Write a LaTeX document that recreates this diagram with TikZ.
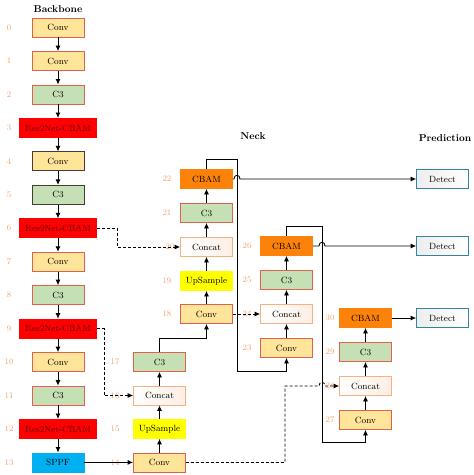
\documentclass[tikz,border=0pt]{standalone}
\usepackage{tikz}
\usetikzlibrary{positioning,calc,arrows.meta}
\definecolor{convyellow}{RGB}{255,229,153}
\definecolor{cgreen}{RGB}{197,224,180}
\definecolor{boxred}{RGB}{226,96,76}
\definecolor{darkline}{RGB}{70,60,50}
\definecolor{resred}{RGB}{255,0,0}
\definecolor{restext}{RGB}{90,0,0}
\definecolor{sppfblue}{RGB}{0,176,240}
\definecolor{upyellow}{RGB}{255,255,0}
\definecolor{concatline}{RGB}{244,177,131}
\definecolor{cbamorange}{RGB}{252,130,10}
\definecolor{detectline}{RGB}{49,133,156}
\definecolor{numorange}{RGB}{240,160,110}

\tikzset{
	blk/.style={draw=boxred, line width=0.8pt, minimum width=52pt, minimum height=19pt, inner sep=0pt, font=\fontsize{9}{10}\selectfont},
	conv/.style={blk, fill=convyellow},
	cthree/.style={blk, fill=cgreen},
	res/.style={blk, fill=resred, draw=resred, minimum width=77pt, text=restext},
	sppf/.style={blk, fill=sppfblue, draw=sppfblue},
	upsample/.style={blk, fill=upyellow, draw=upyellow},
	concat/.style={blk, draw=concatline, left color=white, right color=concatline!22},
	cbam/.style={blk, fill=cbamorange, draw=cbamorange},
	detect/.style={blk, draw=detectline, left color=gray!14, right color=white},
	num/.style={text=numorange, font=\fontsize{8.5}{10}\selectfont},
	title/.style={font=\bfseries\fontsize{10}{12}\selectfont},
	arr/.style={-{Latex[length=5.5pt,width=5pt]}, line width=0.8pt},
	darr/.style={arr, dash pattern=on 3pt off 2pt},
}

\begin{document}
\begin{tikzpicture}[x=1pt,y=-1pt]
		\useasboundingbox (0,0) rectangle (474,475);
		
		\node[title] (tback) at (58,9) {Backbone};
		\node[title] (tneck) at (253,136) {Neck};
		\node[title] (tpred) at (445,138) {Prediction};
		
		% backbone
		\node[conv] (b0) at (58,27.5) {Conv};
		\node[conv] (b1) at (58,61) {Conv};
		\node[cthree] (b2) at (58,94.4) {C3};
		\node[res] (b3) at (58,127.9) {Res2Net-CBAM};
		\node[conv,draw=darkline] (b4) at (58,161.3) {Conv};
		\node[cthree,draw=darkline] (b5) at (58,194.8) {C3};
		\node[res] (b6) at (58,228.2) {Res2Net-CBAM};
		\node[conv] (b7) at (58,261.7) {Conv};
		\node[cthree] (b8) at (58,295.1) {C3};
		\node[res] (b9) at (58,328.6) {Res2Net-CBAM};
		\node[conv] (b10) at (58,362) {Conv};
		\node[cthree] (b11) at (58,395.5) {C3};
		\node[res] (b12) at (58,428.9) {Res2Net-CBAM};
		\node[sppf] (b13) at (58,462.4) {SPPF};
		
		\node[num] (l0) at (9,27.5) {0};
		\node[num] (l1) at (9,61) {1};
		\node[num] (l2) at (9,94.4) {2};
		\node[num] (l3) at (9,127.9) {3};
		\node[num] (l4) at (9,161.3) {4};
		\node[num] (l5) at (9,194.8) {5};
		\node[num] (l6) at (9,228.2) {6};
		\node[num] (l7) at (9,261.7) {7};
		\node[num] (l8) at (9,295.1) {8};
		\node[num] (l9) at (9,328.6) {9};
		\node[num] (l10) at (9,362) {10};
		\node[num] (l11) at (9,395.5) {11};
		\node[num] (l12) at (9,428.9) {12};
		\node[num] (l13) at (9,462.4) {13};
		
		% neck
		\node[conv] (n14) at (159.5,462.4) {Conv};
		\node[upsample] (n15) at (159.5,428.9) {UpSample};
		\node[concat] (n16) at (159.5,395.5) {Concat};
		\node[cthree] (n17) at (159.5,362) {C3};
		
		\node[conv] (n18) at (206.5,314) {Conv};
		\node[upsample] (n19) at (206.5,281) {UpSample};
		\node[concat] (n20) at (206.5,247) {Concat};
		\node[cthree] (n21) at (206.5,213) {C3};
		\node[cbam] (n22) at (206.5,179) {CBAM};
		
		\node[conv] (n23) at (286.5,348) {Conv};
		\node[concat] (n24) at (286.5,314) {Concat};
		\node[cthree] (n25) at (286.5,280) {C3};
		\node[cbam] (n26) at (286.5,246) {CBAM};
		
		\node[conv] (n27) at (365.5,420) {Conv};
		\node[concat] (n28) at (365.5,386) {Concat};
		\node[cthree] (n29) at (365.5,352) {C3};
		\node[cbam] (n30) at (365.5,318) {CBAM};
		
		\node[num] (l14) at (115,462.4) {14};
		\node[num] (l15) at (115,428.9) {15};
		\node[num] (l16) at (115,395.5) {16};
		\node[num] (l17) at (115,362) {17};
		\node[num] (l18) at (167,314) {18};
		\node[num] (l19) at (167,281) {19};
		\node[num] (l20) at (170,247) {20};
		\node[num] (l21) at (167,213) {21};
		\node[num] (l22) at (167,179) {22};
		\node[num] (l23) at (247,348) {23};
		\node[num] (l24) at (247,314) {24};
		\node[num] (l25) at (247,280) {25};
		\node[num] (l26) at (247,246) {26};
		\node[num] (l27) at (330,420) {27};
		\node[num] (l28) at (330,386) {28};
		\node[num] (l29) at (330,352) {29};
		\node[num] (l30) at (330,318) {30};
		
		% prediction
		\node[detect] (d1) at (442.5,179) {Detect};
		\node[detect] (d2) at (442.5,246) {Detect};
		\node[detect] (d3) at (442.5,318) {Detect};
		
		% backbone flow
		\draw[arr] (b0) -- (b1);
		\draw[arr] (b1) -- (b2);
		\draw[arr] (b2) -- (b3);
		\draw[arr] (b3) -- (b4);
		\draw[arr] (b4) -- (b5);
		\draw[arr] (b5) -- (b6);
		\draw[arr] (b6) -- (b7);
		\draw[arr] (b7) -- (b8);
		\draw[arr] (b8) -- (b9);
		\draw[arr] (b9) -- (b10);
		\draw[arr] (b10) -- (b11);
		\draw[arr] (b11) -- (b12);
		\draw[arr] (b12) -- (b13);
		
		% neck flow
		\draw[arr] (b13) -- (n14);
		\draw[arr] (n14) -- (n15);
		\draw[arr] (n15) -- (n16);
		\draw[arr] (n16) -- (n17);
		\draw[arr] (n17.north) -- ++(0,-14) -| (n18.south);
		\draw[arr] (n18) -- (n19);
		\draw[arr] (n19) -- (n20);
		\draw[arr] (n20) -- (n21);
		\draw[arr] (n21) -- (n22);
		\draw[arr] (n22.north) |- (237,159) -- (237,371) -| (n23.south);
		\draw[arr] (n23) -- (n24);
		\draw[arr] (n24) -- (n25);
		\draw[arr] (n25) -- (n26);
		\draw[arr] (n26.north) |- (322,226) -- (322,442) -| (n27.south);
		\draw[arr] (n27) -- (n28);
		\draw[arr] (n28) -- (n29);
		\draw[arr] (n29) -- (n30);
		
		% skip links
		\draw[darr] (b6.east) -- (117,228.2) |- (n20.west);
		\draw[darr] (b9.east) -- (104,328.6) |- (n16.west);
		\draw[darr] (n18.east) -- (n24.west);
		\draw[darr] (n14.east) -| (285,386) -- (319,386) .. controls (319,381) and (325,381) .. (325,386) -- (n28.west);
		
		% heads
		\draw[arr] (n22.east) -- (234,179) .. controls (234,174) and (240,174) .. (240,179) -- (d1.west);
		\draw[arr] (n26.east) -- (319,246) .. controls (319,241) and (325,241) .. (325,246) -- (d2.west);
		\draw[arr] (n30) -- (d3);
		
\end{tikzpicture}
\end{document}
